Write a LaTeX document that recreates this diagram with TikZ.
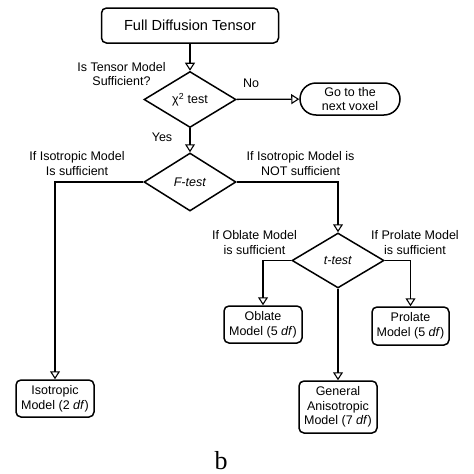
\documentclass[tikz,border=0pt]{standalone}
\usepackage{fontspec}
\setmainfont{Liberation Sans}
\newfontfamily\serifb{Liberation Serif}
\usetikzlibrary{shapes.geometric,arrows.meta}
\tikzset{
  modelbox/.style={draw,line width=1.5pt,rounded corners=5pt,align=center,inner sep=0pt},
  testdiam/.style={draw,diamond,line width=1.5pt,inner sep=0pt,minimum width=92pt,minimum height=56pt},
  flow/.style={line width=1.3pt,-{Triangle[open,length=8pt,width=10pt,line width=1.1pt]}},
  lbl/.style={align=center,inner sep=0pt}
}
\begin{document}
\begin{tikzpicture}[x=1pt,y=-1pt,font=\fontsize{12.5}{14.6}\selectfont]
\useasboundingbox (0,0) rectangle (474,474);
% boxes
\node[modelbox,minimum width=177pt,minimum height=35pt,font=\fontsize{14.6}{17}\selectfont] (full) at (190,25.5) {Full Diffusion Tensor};
\node[modelbox,rounded corners=16pt,minimum width=100pt,minimum height=32pt] (go) at (350,99) {Go to the\\next voxel};
\node[modelbox,minimum width=78pt,minimum height=37pt] (iso) at (55,398.5) {Isotropic\\Model (2 \textit{df})};
\node[modelbox,minimum width=78pt,minimum height=37pt] (obl) at (263,324.5) {Oblate\\Model (5 \textit{df})};
\node[modelbox,minimum width=77pt,minimum height=38pt] (prol) at (410.5,326) {Prolate\\Model (5 \textit{df})};
\node[modelbox,minimum width=78pt,minimum height=52pt] (gen) at (338,407) {General\\Anisotropic\\Model (7 \textit{df})};
% tests
\node[testdiam] (chi) at (190,99.5) {χ\textsuperscript{2} test};
\node[testdiam,minimum height=58pt] (ftest) at (190,182) {\textit{F-test}};
\node[testdiam,minimum height=55pt] (ttest) at (338,260.5) {\textit{t-test}};
% labels
\node[lbl] (tensorq) at (121.5,74) {Is Tensor Model\\Sufficient?};
\node[lbl] (isoyes) at (77,163.5) {If Isotropic Model\\Is sufficient};
\node[lbl] (isono) at (300.5,163.5) {If Isotropic Model is\\NOT sufficient};
\node[lbl] (oblq) at (254.5,242.5) {If Oblate Model\\is sufficient};
\node[lbl] (prolq) at (415,242.5) {If Prolate Model\\is sufficient};
\node[lbl] (no) at (251,83) {No};
\node[lbl] (yes) at (162,137) {Yes};
% arrows
\foreach \a/\b in {full/chi,chi/go,chi/ftest,ttest/gen}
  \draw[flow] (\a) -- (\b);
\foreach \a/\b in {ftest.west/iso,ftest.east/ttest,ttest.west/obl,ttest.east/prol}
  \draw[flow] (\a) -| (\b);
\node[inner sep=0pt,font=\serifb\fontsize{26}{28}\selectfont] (caption) at (221,461) {b};
\end{tikzpicture}
\end{document}
